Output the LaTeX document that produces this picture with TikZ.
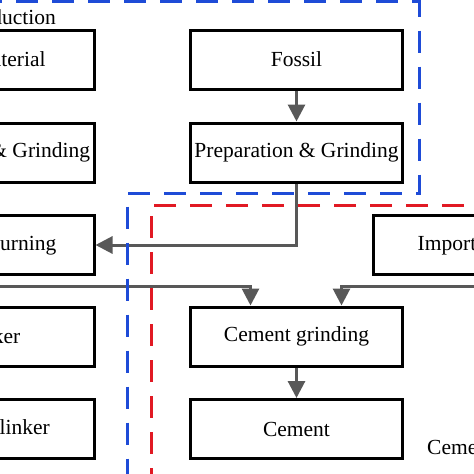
\documentclass[tikz,border=0pt]{standalone}
\usepackage{fontspec}
\setmainfont{Liberation Serif}
\usetikzlibrary{arrows.meta}
\definecolor{flowgray}{RGB}{88,88,88}
\definecolor{zoneblue}{RGB}{30,75,215}
\definecolor{zonered}{RGB}{225,25,35}
\tikzset{
  stage/.style={draw,line width=3pt,minimum width=212pt,minimum height=59pt,inner sep=0pt,
    font=\fontsize{21.5}{25}\selectfont},
  flow/.style={draw=flowgray,line width=3pt,-{Triangle[length=17pt,width=17pt]}},
  zone/.style={line width=3pt,dash pattern=on 22pt off 14pt},
  zonelabel/.style={inner sep=0pt,font=\fontsize{21.5}{25}\selectfont}
}
\begin{document}
\begin{tikzpicture}[x=1pt,y=-1pt]
  \useasboundingbox (0,0) rectangle (474,474);
  \node[stage] (raw) at (-12,59.5) {Raw material};
  \node[stage] (rawprep) at (-12,152.5) {Preparation \& Grinding};
  \node[stage] (burn) at (-12,245) {Clinker burning};
  \node[stage] (clinker) at (-12,336.5) {Clinker};
  \node[stage] (export) at (-12,429) {Export clinker};
  \node[stage] (fossil) at (296.5,59.5) {Fossil};
  \node[stage] (fuelprep) at (296.5,152.5) {Preparation \& Grinding};
  \node[stage] (grind) at (296.5,336.5) {Cement grinding};
  \node[stage] (cement) at (296.5,429) {Cement};
  \node[stage] (import) at (479.5,245) {Import clinker};
  \draw[flow] (fossil) -- (fuelprep);
  \draw[flow] (fuelprep.south) |- (burn.east);
  \draw[flow] (burn.south) -- ([yshift=-10pt]burn.south) -| ([xshift=-46pt]grind.north);
  \draw[flow] (import.south) -- ([yshift=-10pt]import.south) -| ([xshift=45pt]grind.north);
  \draw[flow] (grind) -- (cement);
  \draw[zone,zoneblue] (-20,1.5) -- (419,1.5) -- (419,193) -- (127,193) -- (127,476) -- (-20,476);
  \draw[zone,zonered] (500,205) -- (151,205) -- (151,476) -- (500,476);
  \node[zonelabel,anchor=base east] (clinkerzone) at (56,24) {Clinker production};
  \node[zonelabel,anchor=base west] (cementzone) at (427,454) {Cement production};
\end{tikzpicture}
\end{document}
